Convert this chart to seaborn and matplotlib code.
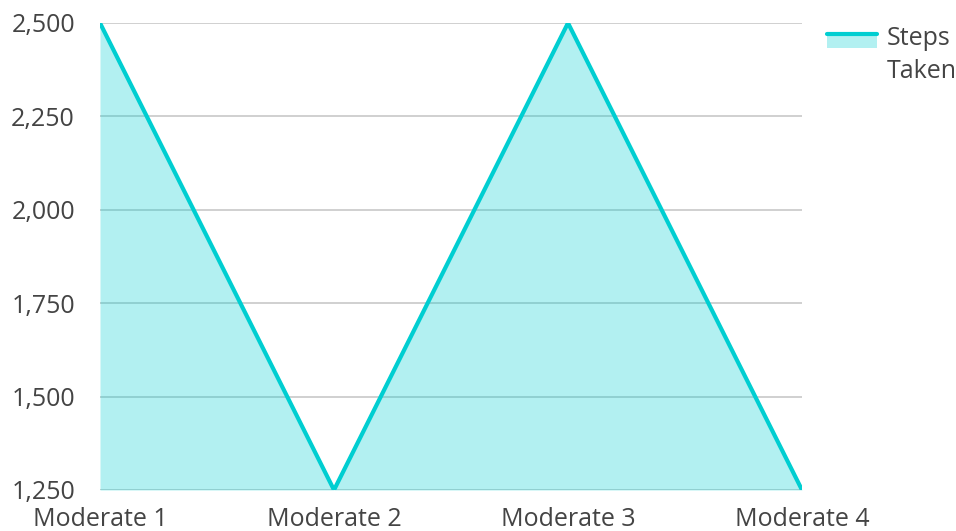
import matplotlib
matplotlib.use("Agg")
import matplotlib.pyplot as plt
import seaborn as sns
import pandas as pd
from matplotlib.patches import Rectangle
from matplotlib.lines import Line2D
from matplotlib.legend_handler import HandlerBase

categories = ["Moderate 1", "Moderate 2", "Moderate 3", "Moderate 4"]
steps = [2500, 1250, 2500, 1250]
y_ticks = [1250, 1500, 1750, 2000, 2250, 2500]
series_name = "Steps\nTaken"

line_color = "#00CED1"
text_color = "#444444"
font_size = 18

sns.set_theme(style="white")
plt.rcParams["font.family"] = ["Open Sans", "DejaVu Sans"]

df = pd.DataFrame({"x": range(len(categories)), "steps": steps})

fig = plt.figure(figsize=(9.56, 5.31), dpi=100)
ax = fig.add_axes([100 / 956, 1 - 490 / 531, 702 / 956, 467 / 531])

for t in y_ticks:
    ax.axhline(t, color="#c8c8c8", lw=1.2, zorder=0)

ax.fill_between(df["x"], steps, y_ticks[0], color=line_color, alpha=0.3, lw=0, zorder=1)
sns.lineplot(data=df, x="x", y="steps", color=line_color, lw=3, ax=ax, zorder=2)

ax.set_xlim(0, len(categories) - 1)
ax.set_ylim(y_ticks[0], y_ticks[-1])
ax.set_xticks(range(len(categories)))
ax.set_xticklabels(categories)
ax.set_yticks(y_ticks)
ax.set_yticklabels([f"{v:,}" for v in y_ticks])
ax.set_xlabel("")
ax.set_ylabel("")
ax.tick_params(axis="both", length=0, labelsize=font_size, colors=text_color)
ax.tick_params(axis="x", pad=12)
ax.tick_params(axis="y", pad=18)
for s in ax.spines.values():
    s.set_visible(False)

# legend swatch: filled band with the line on top, level with the first text line
LINE_SHIFT = 11.5


class AreaHandler(HandlerBase):
    def create_artists(self, legend, orig, xd, yd, w, h, fontsize, trans):
        base = -yd + LINE_SHIFT
        rect = Rectangle((-xd, base), w, 9.5, facecolor=line_color,
                         alpha=0.3, lw=0, transform=trans)
        ln = Line2D([-xd, -xd + w], [base + 10.5, base + 10.5], color=line_color,
                    lw=3, transform=trans)
        return [rect, ln]


proxy = Line2D([], [], color=line_color)
leg = fig.legend([proxy], [series_name], handler_map={Line2D: AreaHandler()},
                 loc="upper left", bbox_to_anchor=(807 / 956, 1 - 6 / 531),
                 frameon=False, fontsize=font_size, handlelength=2.0, handletextpad=0.4,
                 labelcolor=text_color, borderpad=0.3)
for t in leg.get_texts():
    t.set_linespacing(1.4)

fig.savefig("out.png", dpi=100)
